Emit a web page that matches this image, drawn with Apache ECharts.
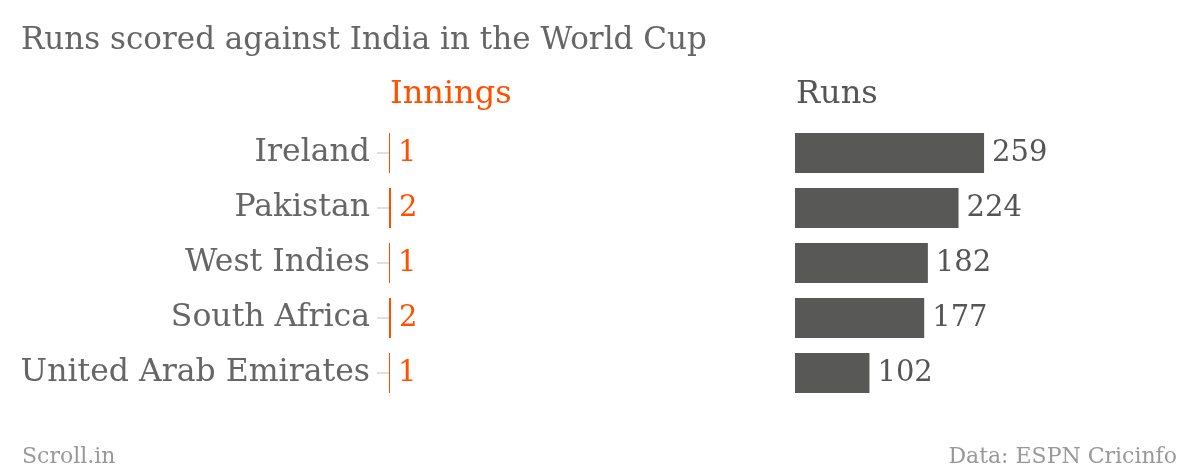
<!DOCTYPE html>
<html>
<head>
<meta charset="utf-8">
<script src="https://cdn.jsdelivr.net/npm/echarts@6/dist/echarts.min.js"></script>
<style>
html,body{margin:0;padding:0;background:#fff;}
#main{width:1200px;height:474px;}
</style>
</head>
<body>
<div id="main"></div>
<script>
var countries = ['Ireland', 'Pakistan', 'West Indies', 'South Africa', 'United Arab Emirates'];
var innings = [1, 2, 1, 2, 1];
var runs = [259, 224, 182, 177, 102];

var FONT = '"DejaVu Serif", serif';
var ORANGE = '#ff5000';
var DARK = '#585856';

var myChart = echarts.init(document.getElementById('main'));

var option = {
    backgroundColor: '#fff',
    animation: false,
    textStyle: { fontFamily: FONT },
    title: [
        {
            text: 'Runs scored against India in the World Cup',
            left: 16, top: 20,
            textStyle: { fontFamily: FONT, fontSize: 31, fontWeight: 'normal', color: '#666' }
        },
        {
            text: 'Innings',
            left: 385, top: 74,
            textStyle: { fontFamily: FONT, fontSize: 32, fontWeight: 'normal', color: ORANGE }
        },
        {
            text: 'Runs',
            left: 791, top: 74,
            textStyle: { fontFamily: FONT, fontSize: 32, fontWeight: 'normal', color: '#555' }
        },
        {
            text: 'Scroll.in',
            left: 17, top: 441,
            textStyle: { fontFamily: FONT, fontSize: 22, fontWeight: 'normal', color: '#999' }
        },
        {
            text: 'Data: ESPN Cricinfo',
            right: 18, top: 441,
            textStyle: { fontFamily: FONT, fontSize: 22, fontWeight: 'normal', color: '#999' }
        }
    ],
    grid: [
        { left: 389, top: 125.5, width: 365, height: 275 },
        { left: 795, top: 125.5, width: 365, height: 275 }
    ],
    xAxis: [
        { gridIndex: 0, type: 'value', min: 0, max: 365, show: false },
        { gridIndex: 1, type: 'value', min: 0, max: 500, show: false }
    ],
    yAxis: [
        {
            gridIndex: 0, type: 'category', data: countries, inverse: true,
            axisLine: { show: false },
            axisTick: { show: true, alignWithLabel: true, length: 12, lineStyle: { color: '#d6d6d6', width: 1.5 } },
            axisLabel: { fontFamily: FONT, fontSize: 31.5, color: '#666', margin: 19 }
        },
        {
            gridIndex: 1, type: 'category', data: countries, inverse: true,
            axisLine: { show: false },
            axisTick: { show: false },
            axisLabel: { show: false }
        }
    ],
    series: [
        {
            name: 'Innings', type: 'bar', xAxisIndex: 0, yAxisIndex: 0,
            data: innings, barWidth: 40,
            itemStyle: { color: ORANGE },
            label: { show: true, position: 'right', distance: 8, fontFamily: FONT, fontSize: 29, color: ORANGE }
        },
        {
            name: 'Runs', type: 'bar', xAxisIndex: 1, yAxisIndex: 1,
            data: runs, barWidth: 40,
            itemStyle: { color: DARK },
            label: { show: true, position: 'right', distance: 8, fontFamily: FONT, fontSize: 29, color: '#555' }
        }
    ]
};

myChart.setOption(option);
window.onresize = myChart.resize;
</script>
</body>
</html>
